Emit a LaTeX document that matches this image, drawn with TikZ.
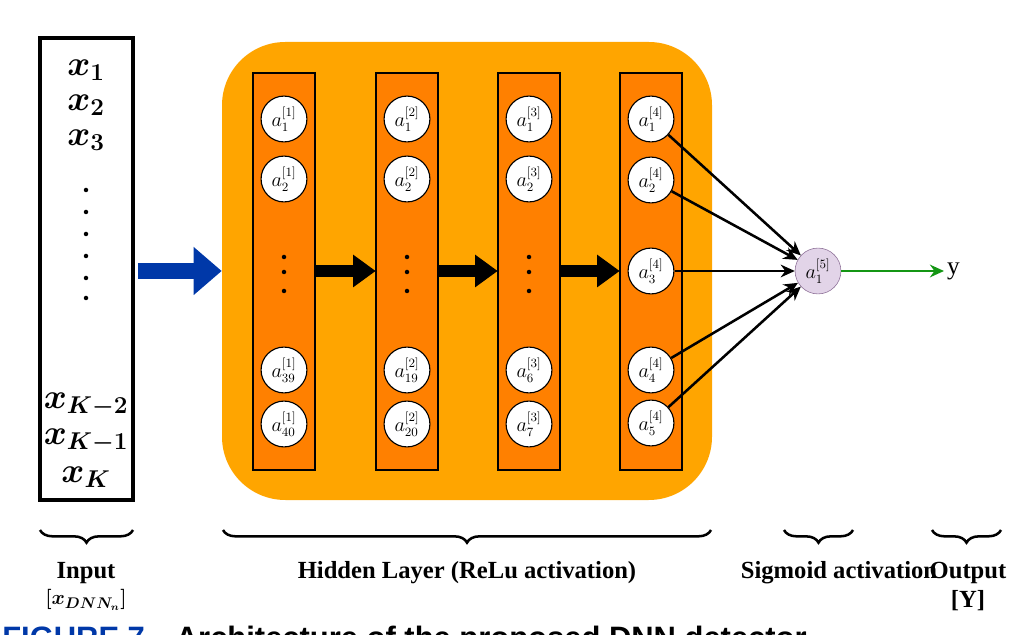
\documentclass[tikz,border=0pt]{standalone}
\usepackage{amsmath,bm}
\usepackage{fontspec}
\newfontfamily\tnr{Liberation Serif}
\newfontfamily\capfont{Liberation Sans}
\usetikzlibrary{arrows.meta,decorations.pathreplacing,calc}
\definecolor{boxor}{RGB}{255,165,0}
\definecolor{colo}{RGB}{255,128,0}
\definecolor{bluea}{RGB}{0,56,168}
\definecolor{lav}{RGB}{226,212,232}
\definecolor{lavd}{RGB}{140,110,150}
\definecolor{greenl}{RGB}{20,150,20}
\tikzset{
 neuron/.style={circle,draw=black,thick,fill=white,minimum size=46*0.709pt,inner sep=0pt,font=\fontsize{13.5}{13.5}\selectfont},
 col/.style={draw=black,fill=colo,line width=0.8pt},
 inx/.style={font=\boldmath\fontsize{24}{24}\selectfont},
 lab/.style={font=\tnr\bfseries\fontsize{17.5}{19}\selectfont},
 br/.style={decorate,decoration={brace,mirror,amplitude=9pt},line width=1.8pt},
 conn/.style={-{Stealth[length=10pt,width=9pt]},line width=1.8pt},
 bigarr/.style={-{Triangle[length=16pt,width=22pt]},line width=8.5pt},
 dot/.style={circle,fill=black,inner sep=0pt,minimum size=3.2pt}
}
\begin{document}
\begin{tikzpicture}[x=0.025cm,y=-0.025cm]
\useasboundingbox (0,0) rectangle (1013,635);
\clip (0,0) rectangle (1013,635);
% input box
\draw[line width=3pt] (40,38) rectangle (133,500);
\node[inx] (x1) at (86,70) {$x_1$};
\node[inx] (x2) at (86,105) {$x_2$};
\node[inx] (x3) at (86,140) {$x_3$};
\foreach \yy in {190,212,234,256,278,298}{\node[dot] at (86,\yy) {};}
\node[inx] (xk2) at (86,405) {$x_{K-2}$};
\node[inx] (xk1) at (86,441) {$x_{K-1}$};
\node[inx] (xk) at (86,477) {$x_{K}$};
% hidden box
\fill[boxor,rounded corners=45] (222,42) rectangle (712,500);
\node[inner sep=0,minimum size=0] (hid) at (222,271) {};
% blue arrow
\node[inner sep=0] (bs) at (137,271) {};
\draw[bluea,-{Triangle[length=20pt,width=33pt]},line width=12pt] (bs) -- (hid);
% columns
\foreach \i/\x in {1/284,2/407,3/529,4/651}{
  \draw[col] (\x-31,73) rectangle (\x+31,470);
  \node[inner sep=0,minimum size=0] (cl\i) at (\x-31,271) {};
  \node[inner sep=0,minimum size=0] (cr\i) at (\x+31,271) {};
}
\foreach \x in {284,407,529}{
  \foreach \yy in {257,272,291}{\node[dot] at (\x,\yy) {};}
}
\node[neuron] (n11) at (284,119) {$a_1^{[1]}$};
\node[neuron] (n12) at (284,179) {$a_2^{[1]}$};
\node[neuron] (n13) at (284,370) {$a_{39}^{[1]}$};
\node[neuron] (n14) at (284,424) {$a_{40}^{[1]}$};
\node[neuron] (n21) at (407,119) {$a_1^{[2]}$};
\node[neuron] (n22) at (407,179) {$a_2^{[2]}$};
\node[neuron] (n23) at (407,370) {$a_{19}^{[2]}$};
\node[neuron] (n24) at (407,424) {$a_{20}^{[2]}$};
\node[neuron] (n31) at (529,119) {$a_1^{[3]}$};
\node[neuron] (n32) at (529,179) {$a_2^{[3]}$};
\node[neuron] (n33) at (529,370) {$a_{6}^{[3]}$};
\node[neuron] (n34) at (529,424) {$a_{7}^{[3]}$};
\node[neuron] (n41) at (651,119) {$a_1^{[4]}$};
\node[neuron] (n42) at (651,180) {$a_2^{[4]}$};
\node[neuron] (n43) at (651,271) {$a_3^{[4]}$};
\node[neuron] (n44) at (651,370) {$a_4^{[4]}$};
\node[neuron] (n45) at (651,423) {$a_5^{[4]}$};
% black arrows between columns
\draw[bigarr] (cr1) -- (cl2);
\draw[bigarr] (cr2) -- (cl3);
\draw[bigarr] (cr3) -- (cl4);
% output neuron
\node[neuron,draw=lavd,fill=lav,thin] (out) at (818,271) {$a_1^{[5]}$};
\foreach \i in {1,...,5}{\draw[conn] (n4\i) -- (out);}
\node[font=\tnr\fontsize{18}{18}\selectfont,anchor=west,inner sep=2pt] (y) at (944,271) {y};
\draw[greenl,line width=1.8pt,-{Stealth[length=10pt,width=9pt]}] (out) -- (y);
% braces
\coordinate (b1a) at (40,530); \coordinate (b1b) at (133,530);
\coordinate (b2a) at (223,530); \coordinate (b2b) at (711,530);
\coordinate (b3a) at (784,530); \coordinate (b3b) at (853,530);
\coordinate (b4a) at (932,530); \coordinate (b4b) at (1001,530);
\draw[br] (b1a) -- (b1b);
\draw[br] (b2a) -- (b2b);
\draw[br] (b3a) -- (b3b);
\draw[br] (b4a) -- (b4b);
\node[lab] (l1) at (86,573) {Input};
\node[font=\boldmath\fontsize{15}{15}\selectfont] (l1b) at (86,600) {$[x_{DNN_n}]$};
\node[lab] (l2) at (467,573) {Hidden Layer (ReLu activation)};
\node[lab] (l3) at (839,573) {Sigmoid activation};
\node[lab] (l4) at (968,573) {Output};
\node[lab] (l4b) at (968,601) {[Y]};
% caption (cut at the page edge, as in the reference)
\node[anchor=west,font=\capfont\bfseries\fontsize{22}{22}\selectfont,inner sep=0] (cp) at (2,640)
 {\textcolor{bluea}{FIGURE 7}\quad Architecture of the proposed DNN detector};
\end{tikzpicture}
\end{document}
